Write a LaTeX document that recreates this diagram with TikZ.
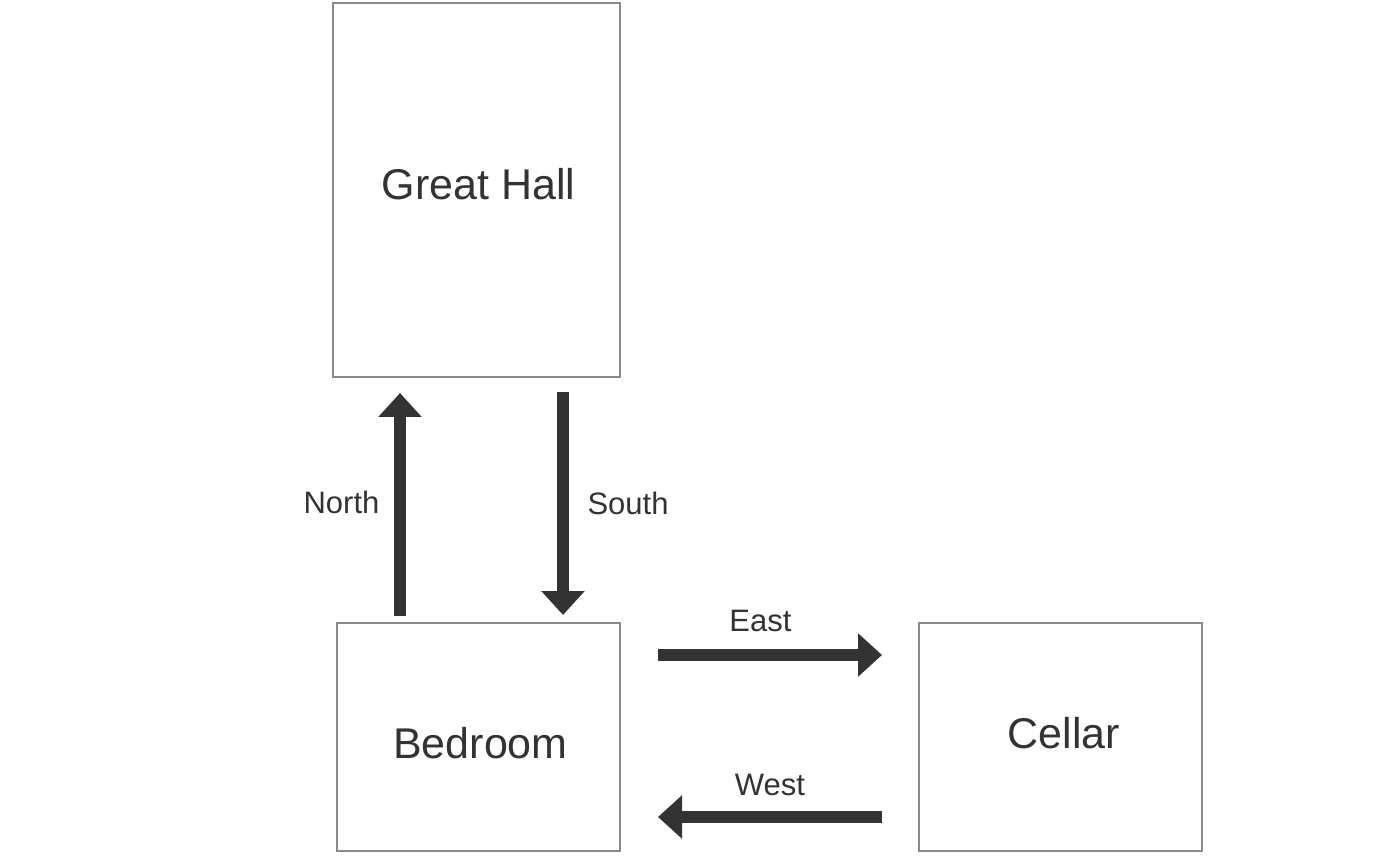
\documentclass[tikz,border=0pt]{standalone}
\usepackage{fontspec}
\setmainfont{Liberation Sans}
\usetikzlibrary{arrows.meta}
\definecolor{ink}{HTML}{333333}
\definecolor{edge}{HTML}{8A8A8A}
\tikzset{
  room/.style={draw=edge, line width=1.8pt, fill=white, inner sep=0pt},
  roomtext/.style={text=ink, inner sep=0pt, font=\fontsize{43}{48}\selectfont},
  move/.style={draw=ink, line width=11.5pt, -{Triangle[width=42pt,length=24pt]}},
  lbl/.style={text=ink, inner sep=0pt, font=\fontsize{31}{36}\selectfont}
}
\begin{document}
\begin{tikzpicture}[x=1pt,y=-1pt]
\useasboundingbox[fill=white] (0,0) rectangle (1374,866);
\node[room, minimum width=287pt, minimum height=374pt] (hall) at (476.5,190) {};
\node[roomtext] (hallt) at (478.5,184) {Great Hall};
\node[room, minimum width=283pt, minimum height=228pt] (bed) at (478.5,737) {};
\node[roomtext] (bedt) at (480.5,743) {Bedroom};
\node[room, minimum width=283pt, minimum height=228pt] (cel) at (1060.5,737) {};
\node[roomtext] (celt) at (1064,733) {Cellar};
\coordinate (ns) at (400,616);
\coordinate (ne) at (400,393);
\coordinate (ss) at (563,392);
\coordinate (se) at (563,615);
\coordinate (es) at (658,655);
\coordinate (ee) at (882,655);
\coordinate (ws) at (882,817);
\coordinate (we) at (658,817);
\draw[move] (ns) -- (ne);
\draw[move] (ss) -- (se);
\draw[move] (es) -- (ee);
\draw[move] (ws) -- (we);
\node[lbl] (nl) at (341.5,502) {North};
\node[lbl] (sl) at (628,503) {South};
\node[lbl] (el) at (760.5,621) {East};
\node[lbl] (wl) at (770,785) {West};
\end{tikzpicture}
\end{document}
